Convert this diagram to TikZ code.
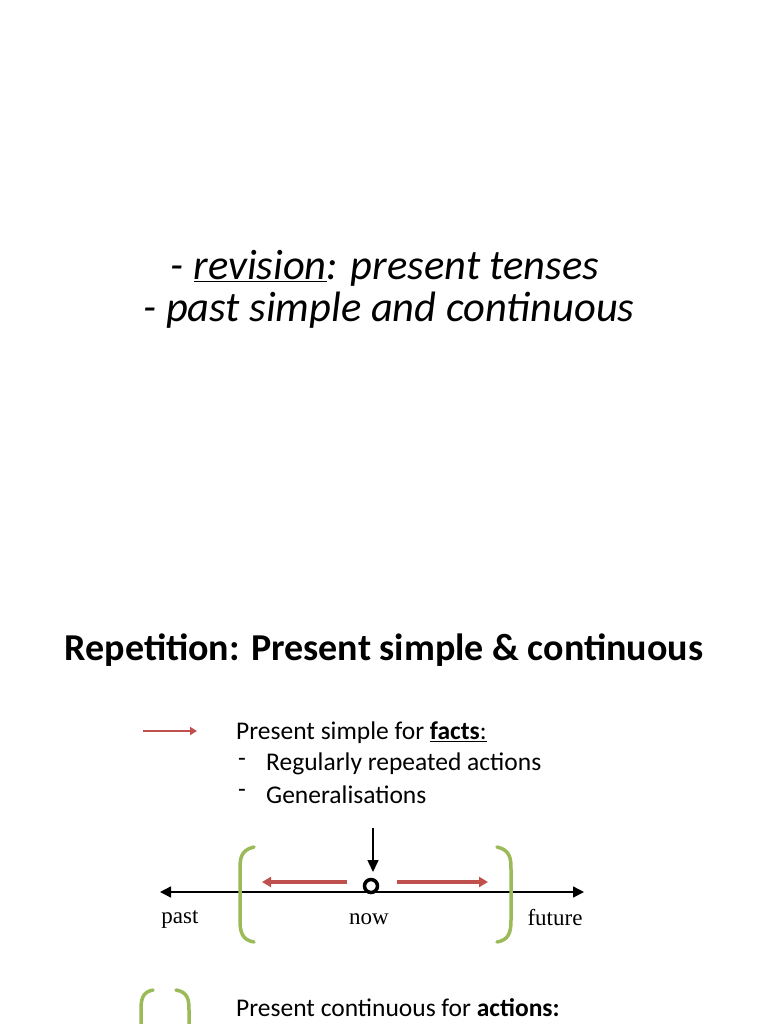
\documentclass[tikz,border=0pt]{standalone}
\usepackage{fontspec}
\setmainfont{Carlito}
\newfontfamily\tl{Liberation Serif}
\usetikzlibrary{arrows.meta}
\definecolor{rd}{RGB}{192,80,77}
\definecolor{gr}{RGB}{155,187,89}
\tikzset{body/.style={anchor=west,inner sep=0pt,font=\fontsize{25.5}{30}\selectfont},
tlab/.style={inner sep=0pt,font=\tl\fontsize{23}{27}\selectfont},
redarr/.style={rd,line width=3.5pt,-{Triangle[length=9pt,width=10pt]}},
brk/.style={gr,line width=3.5pt,line cap=round}}
\begin{document}
\begin{tikzpicture}[x=1pt,y=-1pt]
\useasboundingbox (0,0) rectangle (768,1024);
\fill[white] (0,0) rectangle (768,1024);
\node[inner sep=0pt,font=\itshape\fontsize{42.5}{50}\selectfont] (t1) at (385,268) {- \underline{revision}: present tenses};
\node[inner sep=0pt,font=\itshape\fontsize{42.5}{50}\selectfont] (t2) at (389,310) {- past simple and continuous};
\node[inner sep=0pt,font=\bfseries\fontsize{38}{46}\selectfont] (h) at (384,650) {Repetition: Present simple \& continuous};
\coordinate (ra1) at (143,731); \coordinate (ra2) at (197,731);
\draw[rd,line width=2.5pt,-{Triangle[length=7pt,width=8pt]}] (ra1) -- (ra2);
\node[body] (p1) at (236,733) {Present simple for \textbf{\underline{facts}}\underline{:}};
\node[body] (d1) at (238,762) {-};
\node[body] (b1) at (266,764) {Regularly repeated actions};
\node[body] (d2) at (238,793) {-};
\node[body] (b2) at (266,795) {Generalisations};
% timeline
\coordinate (L) at (160,892); \coordinate (R) at (584,892);
\draw[line width=1.5pt,{Triangle[length=11pt,width=11pt]}-{Triangle[length=11pt,width=11pt]}] (L) -- (R);
\node[circle,draw,line width=3.5pt,minimum size=13pt,inner sep=0pt,fill=white] (now) at (371,886) {};
\coordinate (top) at (373,828);
\coordinate (tip) at (373,872);
\draw[line width=1.5pt,-{Triangle[length=12pt,width=11pt]}] (top) -- (tip);
\coordinate (la1) at (347,882); \coordinate (la2) at (262,882);
\coordinate (rb1) at (397,882); \coordinate (rb2) at (488,882);
\draw[redarr] (la1) -- (la2);
\draw[redarr] (rb1) -- (rb2);
\draw[brk] (254,847) .. controls (240,850) and (240,860) .. (240,870) -- (240,920) .. controls (240,932) and (242,940) .. (254,942);
\draw[brk] (497,847) .. controls (511,850) and (511,860) .. (511,870) -- (511,920) .. controls (511,932) and (509,940) .. (497,942);
\node[tlab] (past) at (180,919) {past};
\node[tlab] (nowl) at (369,919) {now};
\node[tlab] (fut) at (555,918) {future};
% bottom
\draw[brk] (153,990) .. controls (142,992) and (141,1000) .. (141,1010) -- (141,1030);
\draw[brk] (176,990) .. controls (188,992) and (189,1000) .. (189,1010) -- (189,1030);
\node[body] (p2) at (236,1008) {Present continuous for \textbf{actions:}};
\end{tikzpicture}
\end{document}
